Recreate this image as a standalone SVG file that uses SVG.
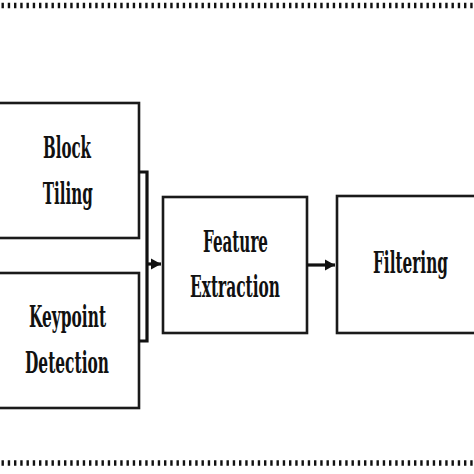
<svg xmlns="http://www.w3.org/2000/svg" width="474" height="474" viewBox="0 0 474 474">
<style>
.box{fill:#fff;stroke:#1a1a1a;stroke-width:2.6}
.lbl{font-family:"DejaVu Serif","Liberation Serif",serif;font-weight:bold;font-size:30px;fill:#111;text-anchor:middle}
.dash{stroke:#111;stroke-width:5.5;stroke-dasharray:2.4 3.85;fill:none}
.conn{stroke:#111;stroke-width:3.2;fill:none}
</style>
<defs>
<marker id="ah" markerWidth="12" markerHeight="12" refX="10" refY="6" orient="auto" markerUnits="userSpaceOnUse">
<path d="M0,0.5 L10,6 L0,11.5 Z" fill="#111"/>
</marker>
</defs>
<rect width="474" height="474" fill="#fff"/>
<line class="dash" x1="1.5" y1="5.5" x2="474" y2="5.5"/>
<line class="dash" x1="1.5" y1="463" x2="474" y2="463"/>
<g id="block-tiling">
<rect class="box" x="-5" y="103" width="144" height="135"/>
<text class="lbl" x="67" y="157.5" textLength="48" lengthAdjust="spacingAndGlyphs">Block</text>
<text class="lbl" x="67.7" y="204" textLength="50" lengthAdjust="spacingAndGlyphs">Tiling</text>
</g>
<g id="keypoint-detection">
<rect class="box" x="-5" y="273" width="144" height="135"/>
<text class="lbl" x="67.5" y="327" textLength="77" lengthAdjust="spacingAndGlyphs">Keypoint</text>
<text class="lbl" x="67" y="373" textLength="84" lengthAdjust="spacingAndGlyphs">Detection</text>
</g>
<g id="feature-extraction">
<rect class="box" x="163" y="197" width="144" height="136"/>
<text class="lbl" x="235.5" y="252" textLength="65" lengthAdjust="spacingAndGlyphs">Feature</text>
<text class="lbl" x="235" y="296.5" textLength="90" lengthAdjust="spacingAndGlyphs">Extraction</text>
</g>
<g id="filtering">
<rect class="box" x="337" y="196" width="145" height="137"/>
<text class="lbl" x="410.5" y="273" textLength="75" lengthAdjust="spacingAndGlyphs">Filtering</text>
</g>
<g id="connectors">
<polyline class="conn" points="139,172 147,172 147,341 139,341"/>
<line class="conn" x1="147" y1="264" x2="161" y2="264" marker-end="url(#ah)"/>
<line class="conn" x1="307" y1="265" x2="335" y2="265" marker-end="url(#ah)"/>
</g>
</svg>
